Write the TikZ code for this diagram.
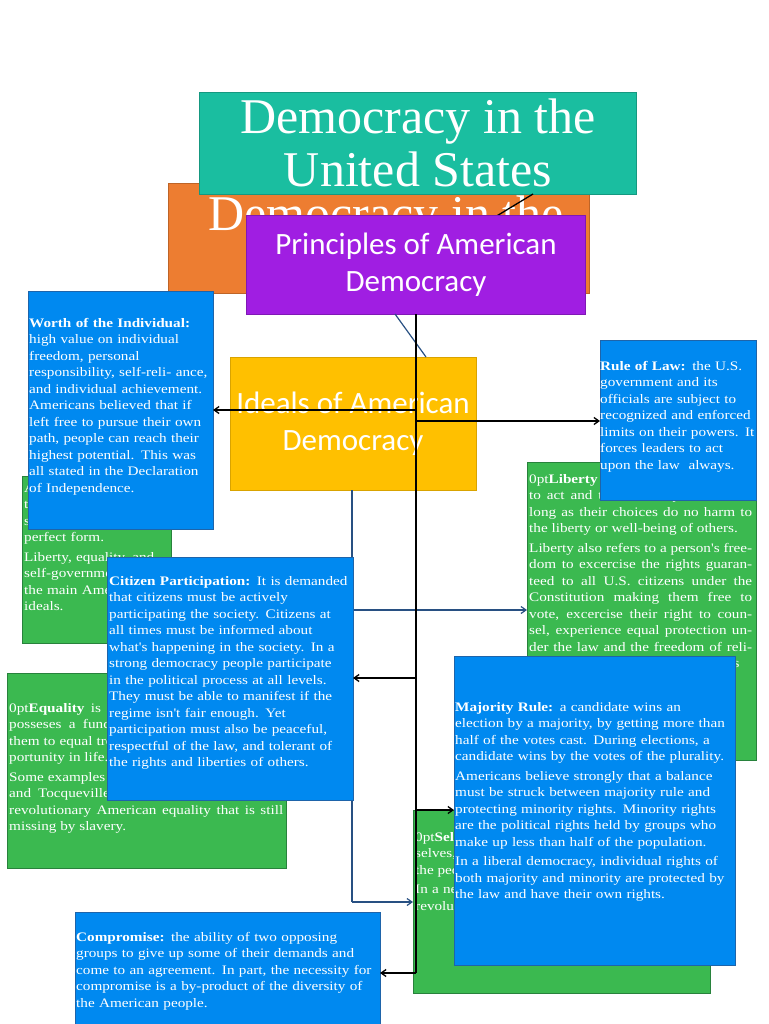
\documentclass[tikz,border=0pt]{standalone}
\usepackage{fontspec}
\setmainfont{Liberation Serif}
\newfontfamily\bodyf[FakeStretch=1.17]{Liberation Serif}
\newfontfamily\calib{Carlito}
\usetikzlibrary{arrows.meta}
\definecolor{teal1}{RGB}{26,190,160}
\definecolor{orng}{RGB}{237,125,49}
\definecolor{purp}{RGB}{160,30,226}
\definecolor{yel}{RGB}{255,192,0}
\definecolor{blu}{RGB}{0,137,240}
\definecolor{bluB}{RGB}{30,100,170}
\definecolor{grn}{RGB}{59,185,80}
\definecolor{grnB}{RGB}{40,130,60}
\definecolor{navy}{RGB}{40,80,130}
\tikzset{
 box/.style={anchor=north west,inner sep=0pt,outer sep=0pt},
 bluebox/.style={box,fill=blu,draw=bluB,line width=1pt},
 greenbox/.style={box,fill=grn,draw=grnB,line width=1pt},
 txt/.style={anchor=north west,inner sep=0pt,text=white,font=\bodyf\fontsize{13}{16.5}\selectfont,align=left},
 jtxt/.style={anchor=north west,inner sep=0pt,text=white,font=\bodyf\fontsize{13}{16.5}\selectfont\hyphenpenalty=10000\exhyphenpenalty=10000,align=justify},
 blk/.style={black,line width=1.3pt},
 blkar/.style={blk,-{Straight Barb[length=5pt,width=7pt]}},
 nv/.style={navy,line width=1.2pt},
 nvar/.style={nv,-{Straight Barb[length=5pt,width=7pt]}},
}
\begin{document}
\begin{tikzpicture}[x=1pt,y=-1pt]
\useasboundingbox (0,0) rectangle (768,1024);
% title boxes
\node[box,fill=orng,draw=orng!80!black,minimum width=421,minimum height=110] (or) at (168,183) {};
\begin{scope}
\clip (168,183) rectangle (589,293);
\node[text=white,font=\fontsize{50}{53}\selectfont,align=center] (ortx) at (386,240) {Democracy in the\\United States};
\end{scope}
\node[box,fill=teal1,draw=teal1!80!black,minimum width=437,minimum height=102] (ti) at (199,92) {};
\node[text=white,font=\fontsize{50}{53}\selectfont,align=center] (titx) at (418,143) {Democracy in the\\United States};
\coordinate (tb) at (533,194);
\coordinate (ob) at (495,217);
\draw[blk] (tb) -- (ob);
\node[box,fill=purp,draw=purp!80!black,minimum width=339,minimum height=99] (pu) at (246,215) {};
\node[text=white,font=\calib\fontsize{31}{37}\selectfont,align=center] (putx) at (416,265) {Principles of American\\Democracy};
\node[box,fill=yel,draw=yel!85!black,minimum width=246,minimum height=133] (ye) at (230,357) {};
\node[text=white,font=\calib\fontsize{31}{37}\selectfont,align=center] (yetx) at (353,424) {Ideals of American\\Democracy};
\coordinate (pb) at (395,314);
\coordinate (yt) at (426,357);
\draw[nv] (pb) -- (yt);
% green boxes
\node[greenbox,minimum width=149,minimum height=167] (g1) at (22,476) {};
\node[txt,text width=145] (g1t) at (24,483) {An ideal is a way of\\thinking about\\something in its most\\perfect form.\\[3pt]Liberty, equality, and\\self-government are\\the main American\\ideals.};
\node[greenbox,minimum width=229,minimum height=298] (lib) at (527,462) {};
\node[jtxt,text width=223] (libt) at (529,474) {\textbf{Liberty} is the freedom of people to act and think as they choose, so long as their choices do no harm to the liberty or well-being of others.\par\vspace{3pt}Liberty also refers to a person's freedom to excercise the rights guaranteed to all U.S. citizens under the Constitution making them free to vote, excercise their right to counsel, experience equal protection under the law and the freedom of religion in order to protect their rights};
\node[greenbox,minimum width=279,minimum height=195] (eq) at (7,673) {};
\node[jtxt,text width=274] (eqt) at (9,703) {\textbf{Equality} is the belief that every person posseses a fundamental worth that entitles them to equal treatment in law and equal opportunity in life.\par\vspace{3pt}Some examples of this include the Civil War and Tocqueville which he wrote about the revolutionary American equality that is still missing by slavery.};
\node[greenbox,minimum width=297,minimum height=183] (sg) at (413,810) {};
\node[jtxt,text width=290] (sgt) at (415,832) {\textbf{Self-Government:} the people rule themselves, so as their government's power source is the people.\par\vspace{3pt}In a new nation, the government came after the revolution.};
% connectors
\coordinate (yb) at (352,490);
\coordinate (j1) at (352,610);
\coordinate (j2) at (352,902);
\draw[nv] (yb) -- (j2);
\draw[nvar] (j1) -- (lib.west |- j1);
\draw[nvar] (j2) -- (sg.west |- j2);
\coordinate (pv) at (416,314);
\coordinate (pe) at (416,973);
\draw[blk] (pv) -- (pe);
% blue boxes
\node[bluebox,minimum width=185,minimum height=238] (wo) at (28,291) {};
\node[txt,text width=184] (wot) at (29,318) {\textbf{Worth of the Individual:}\\high value on individual\\freedom, personal\\responsibility, self-reli- ance,\\and individual achievement.\\Americans believed that if\\left free to pursue their own\\path, people can reach their\\highest potential. This was\\all stated in the Declaration\\of Independence.};
\node[bluebox,minimum width=246,minimum height=243] (cp) at (107,557) {};
\node[txt,text width=245] (cpt) at (109,576) {\textbf{Citizen Participation:} It is demanded\\that citizens must be actively\\participating the society. Citizens at\\all times must be informed about\\what's happening in the society. In a\\strong democracy people participate\\in the political process at all levels.\\They must be able to manifest if the\\regime isn't fair enough. Yet\\participation must also be peaceful,\\respectful of the law, and tolerant of\\the rights and liberties of others.};
\node[bluebox,minimum width=156,minimum height=160] (rl) at (600,340) {};
\node[txt,text width=156] (rlt) at (600,361) {\textbf{Rule of Law:} the U.S.\\government and its\\officials are subject to\\recognized and enforced\\limits on their powers. It\\forces leaders to act\\upon the law\ \ always.};
\node[bluebox,minimum width=281,minimum height=309] (mr) at (454,656) {};
\node[txt,text width=280] (mrt) at (455,702) {\textbf{Majority Rule:} a candidate wins an\\election by a majority, by getting more than\\half of the votes cast. During elections, a\\candidate wins by the votes of the plurality.\\[3pt]Americans believe strongly that a balance\\must be struck between majority rule and\\protecting minority rights. Minority rights\\are the political rights held by groups who\\make up less than half of the population.\\[3pt]In a liberal democracy, individual rights of\\both majority and minority are protected by\\the law and have their own rights.};
\node[bluebox,minimum width=305,minimum height=115] (cm) at (75,912) {};
\node[txt,text width=304] (cmt) at (76,932) {\textbf{Compromise:} the ability of two opposing\\groups to give up some of their demands and\\come to an agreement. In part, the necessity for\\compromise is a by-product of the diversity of\\the American people.};
% black arrows
\coordinate (a1) at (416,410);
\coordinate (a2) at (416,421);
\coordinate (a3) at (416,678);
\coordinate (a4) at (416,810);
\draw[blkar] (a1) -- (wo.east |- a1);
\draw[blkar] (a2) -- (rl.west |- a2);
\draw[blkar] (a3) -- (cp.east |- a3);
\draw[blkar] (a4) -- (mr.west |- a4);
\draw[blkar] (pe) -- (cm.east |- pe);
\end{tikzpicture}
\end{document}
